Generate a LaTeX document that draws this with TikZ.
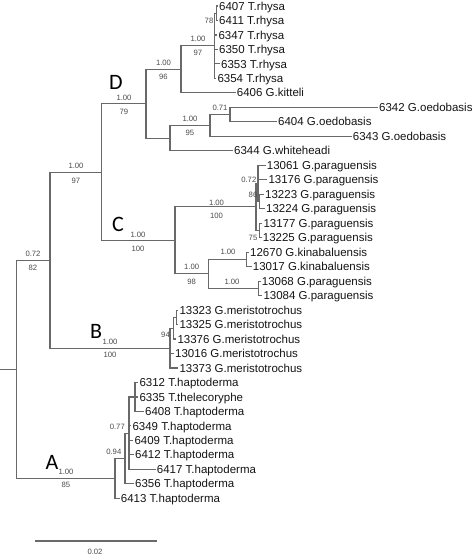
\documentclass[tikz,border=0pt]{standalone}
\usepackage{fontspec}
\setmainfont{Liberation Sans}
\newfontfamily\cladefont{Carlito}
\definecolor{branch}{RGB}{105,105,105}
\definecolor{supp}{RGB}{75,75,75}
\definecolor{taxtext}{RGB}{20,20,20}
\begin{document}
\begin{tikzpicture}[x=1pt,y=-1pt,
  taxon/.style={anchor=west, inner sep=1pt, text height=8.2pt, text depth=0pt,
    font=\fontsize{11.5}{13}\selectfont, text=taxtext},
  sup/.style={inner sep=0pt, font=\fontsize{7.7}{9}\selectfont, text=supp},
  cladelet/.style={inner sep=0pt, text height=14pt, text depth=0pt,
    font=\cladefont\fontsize{22}{24}\selectfont, text=black},
  br/.style={draw=branch, line width=1.1pt},
]
\useasboundingbox (0,0) rectangle (474,555);

% ---- taxa ----
\node[taxon] (t1)  at (218.0,  6.00) {6407 T.rhysa};
\node[taxon] (t2)  at (218.0, 20.48) {6411 T.rhysa};
\node[taxon] (t3)  at (217.3, 34.96) {6347 T.rhysa};
\node[taxon] (t4)  at (218.0, 49.44) {6350 T.rhysa};
\node[taxon] (t5)  at (220.0, 63.92) {6353 T.rhysa};
\node[taxon] (t6)  at (216.3, 78.40) {6354 T.rhysa};
\node[taxon] (t7)  at (235.7, 92.88) {6406 G.kitteli};
\node[taxon] (t8)  at (378.0,107.36) {6342 G.oedobasis};
\node[taxon] (t9)  at (277.0,121.84) {6404 G.oedobasis};
\node[taxon] (t10) at (351.7,136.32) {6343 G.oedobasis};
\node[taxon] (t11) at (233.0,150.80) {6344 G.whiteheadi};
\node[taxon] (t12) at (265.7,165.28) {13061 G.paraguensis};
\node[taxon] (t13) at (267.3,179.76) {13176 G.paraguensis};
\node[taxon] (t14) at (264.0,194.24) {13223 G.paraguensis};
\node[taxon] (t15) at (265.0,208.72) {13224 G.paraguensis};
\node[taxon] (t16) at (262.3,223.20) {13177 G.paraguensis};
\node[taxon] (t17) at (261.7,237.68) {13225 G.paraguensis};
\node[taxon] (t18) at (249.0,252.16) {12670 G.kinabaluensis};
\node[taxon] (t19) at (251.7,266.64) {13017 G.kinabaluensis};
\node[taxon] (t20) at (260.7,281.12) {13068 G.paraguensis};
\node[taxon] (t21) at (262.3,295.60) {13084 G.paraguensis};
\node[taxon] (t22) at (178.3,310.08) {13323 G.meristotrochus};
\node[taxon] (t23) at (178.3,324.56) {13325 G.meristotrochus};
\node[taxon] (t24) at (176.3,339.04) {13376 G.meristotrochus};
\node[taxon] (t25) at (174.0,353.52) {13016 G.meristotrochus};
\node[taxon] (t26) at (178.3,368.00) {13373 G.meristotrochus};
\node[taxon] (t27) at (138.3,382.48) {6312 T.haptoderma};
\node[taxon] (t28) at (138.3,396.96) {6335 T.thelecoryphe};
\node[taxon] (t29) at (144.0,411.44) {6408 T.haptoderma};
\node[taxon] (t30) at (131.3,425.92) {6349 T.haptoderma};
\node[taxon] (t31) at (133.3,440.40) {6409 T.haptoderma};
\node[taxon] (t32) at (134.0,454.88) {6412 T.haptoderma};
\node[taxon] (t33) at (155.7,469.36) {6417 T.haptoderma};
\node[taxon] (t34) at (134.0,483.84) {6356 T.haptoderma};
\node[taxon] (t35) at (119.7,498.32) {6413 T.haptoderma};

% ---- internal nodes ----
\coordinate (n78)   at (216.5, 13.24);
\coordinate (nrh)   at (214.5, 45.82);
\coordinate (nki)   at (181.0, 69.35);
\coordinate (n71)   at (230.0,114.60);
\coordinate (noe)   at (210.0,125.46);
\coordinate (nwh)   at (170.0,138.13);
\coordinate (nD)    at (146.0,103.74);
\coordinate (n86)   at (259.5,201.48);
\coordinate (n75)   at (259.5,230.44);
\coordinate (n72)   at (258.0,183.38);
\coordinate (nP)    at (256.0,206.91);
\coordinate (nkb)   at (246.7,259.40);
\coordinate (n68)   at (258.3,288.36);
\coordinate (n98)   at (208.3,273.88);
\coordinate (nC)    at (175.0,240.40);
\coordinate (nDC)   at (101.7,172.07);
\coordinate (n23)   at (176.5,317.32);
\coordinate (n94)   at (173.5,328.18);
\coordinate (nB)    at (170.0,348.09);
\coordinate (nDCB)  at ( 50.0,260.08);
\coordinate (ngr)   at (135.0,396.96);
\coordinate (n77)   at (129.0,433.16);
\coordinate (n94a)  at (125.0,458.50);
\coordinate (nA)    at (115.0,478.41);
\coordinate (nroot) at ( 16.7,369.25);
\coordinate (r0)    at (  0.0,369.25);

% ---- branches ----
\draw[br] (n78) |- (t1.west) (n78) |- (t2.west);
\draw[br] (nrh) |- (n78) (nrh) |- (t3.west) (nrh) |- (t4.west) (nrh) |- (t5.west) (nrh) |- (t6.west);
\draw[br] (nki) |- (nrh) (nki) |- (t7.west);
\draw[br] (n71) |- (t8.west) (n71) |- (t9.west);
\draw[br] (noe) |- (n71) (noe) |- (t10.west);
\draw[br] (nwh) |- (noe) (nwh) |- (t11.west);
\draw[br] (nD) |- (nki) (nD) |- (nwh);
\draw[br] (n86) |- (t14.west) (n86) |- (t15.west);
\draw[br] (n75) |- (t16.west) (n75) |- (t17.west);
\draw[br] (n72) |- (t12.west) (n72) |- (t13.west) (n72) |- (n86);
\draw[br] (nP) |- (n72) (nP) |- (n75);
\draw[br] (nkb) |- (t18.west) (nkb) |- (t19.west);
\draw[br] (n68) |- (t20.west) (n68) |- (t21.west);
\draw[br] (n98) |- (nkb) (n98) |- (n68);
\draw[br] (nC) |- (nP) (nC) |- (n98);
\draw[br] (nDC) |- (nD) (nDC) |- (nC);
\draw[br] (n23) |- (t22.west) (n23) |- (t23.west);
\draw[br] (n94) |- (n23) (n94) |- (t24.west);
\draw[br] (nB) |- (n94) (nB) |- (t25.west) (nB) |- (t26.west);
\draw[br] (nDCB) |- (nDC) (nDCB) |- (nB);
\draw[br] (ngr) |- (t27.west) (ngr) |- (t28.west) (ngr) |- (t29.west);
\draw[br] (n77) |- (ngr) (n77) |- (t30.west) (n77) |- (t31.west) (n77) |- (t32.west) (n77) |- (t33.west);
\draw[br] (n94a) |- (n77) (n94a) |- (t34.west);
\draw[br] (nA) |- (n94a) (nA) |- (t35.west);
\draw[br] (nroot) |- (nDCB) (nroot) |- (nA);
\draw[br] (r0) -- (nroot);

% ---- support values ----
\node[sup, anchor=east] (s78) at (213.5,20.7) {78};
\node[sup] (s1a) at (198,39) {1.00};
\node[sup] (s1b) at (198,53) {97};
\node[sup] (s2a) at (163.5,63) {1.00};
\node[sup] (s2b) at (163.5,77) {96};
\node[sup] (s71) at (220,108) {0.71};
\node[sup] (s3a) at (190,119) {1.00};
\node[sup] (s3b) at (190,133) {95};
\node[cladelet] (lD) at (116,82.5) {D};
\node[sup] (sDa) at (124,98) {1.00};
\node[sup] (sDb) at (124,111.5) {79};
\node[sup] (s4a) at (76,166) {1.00};
\node[sup] (s4b) at (76,181) {97};
\node[sup, anchor=east] (s072) at (256.5,180) {0.72};
\node[sup, anchor=east] (s86) at (257.5,194.5) {86};
\node[sup, anchor=east] (s75) at (257.5,237.7) {75};
\node[sup] (s5a) at (216.5,202.5) {1.00};
\node[sup] (s5b) at (216.5,216) {100};
\node[sup] (s6) at (228,252) {1.00};
\node[sup] (s7) at (232,282) {1.00};
\node[sup] (s8a) at (191.7,267.3) {1.00};
\node[sup] (s8b) at (191.7,281.7) {98};
\node[cladelet] (lC) at (118,224.5) {C};
\node[sup] (sCa) at (138,235) {1.00};
\node[sup] (sCb) at (138,249) {100};
\node[sup] (s9a) at (33,254) {0.72};
\node[sup] (s9b) at (33,268) {82};
\node[cladelet] (lB) at (96,331.5) {B};
\node[sup] (sBa) at (110,342) {1.00};
\node[sup] (sBb) at (110,355) {100};
\node[sup, anchor=east] (s94) at (170,335) {94};
\node[sup, anchor=east] (s077) at (125,427) {0.77};
\node[sup, anchor=east] (s094) at (121.5,451.7) {0.94};
\node[cladelet] (lA) at (52,462.5) {A};
\node[sup] (sAa) at (66,472) {1.00};
\node[sup] (sAb) at (66,485) {85};

% ---- scale bar ----
\coordinate (sb0) at (35,541);
\coordinate (sb1) at (156.7,541);
\draw[draw=branch, line width=1.8pt] (sb0) -- (sb1);
\node[sup] (sbl) at (95,552) {0.02};
\end{tikzpicture}
\end{document}
